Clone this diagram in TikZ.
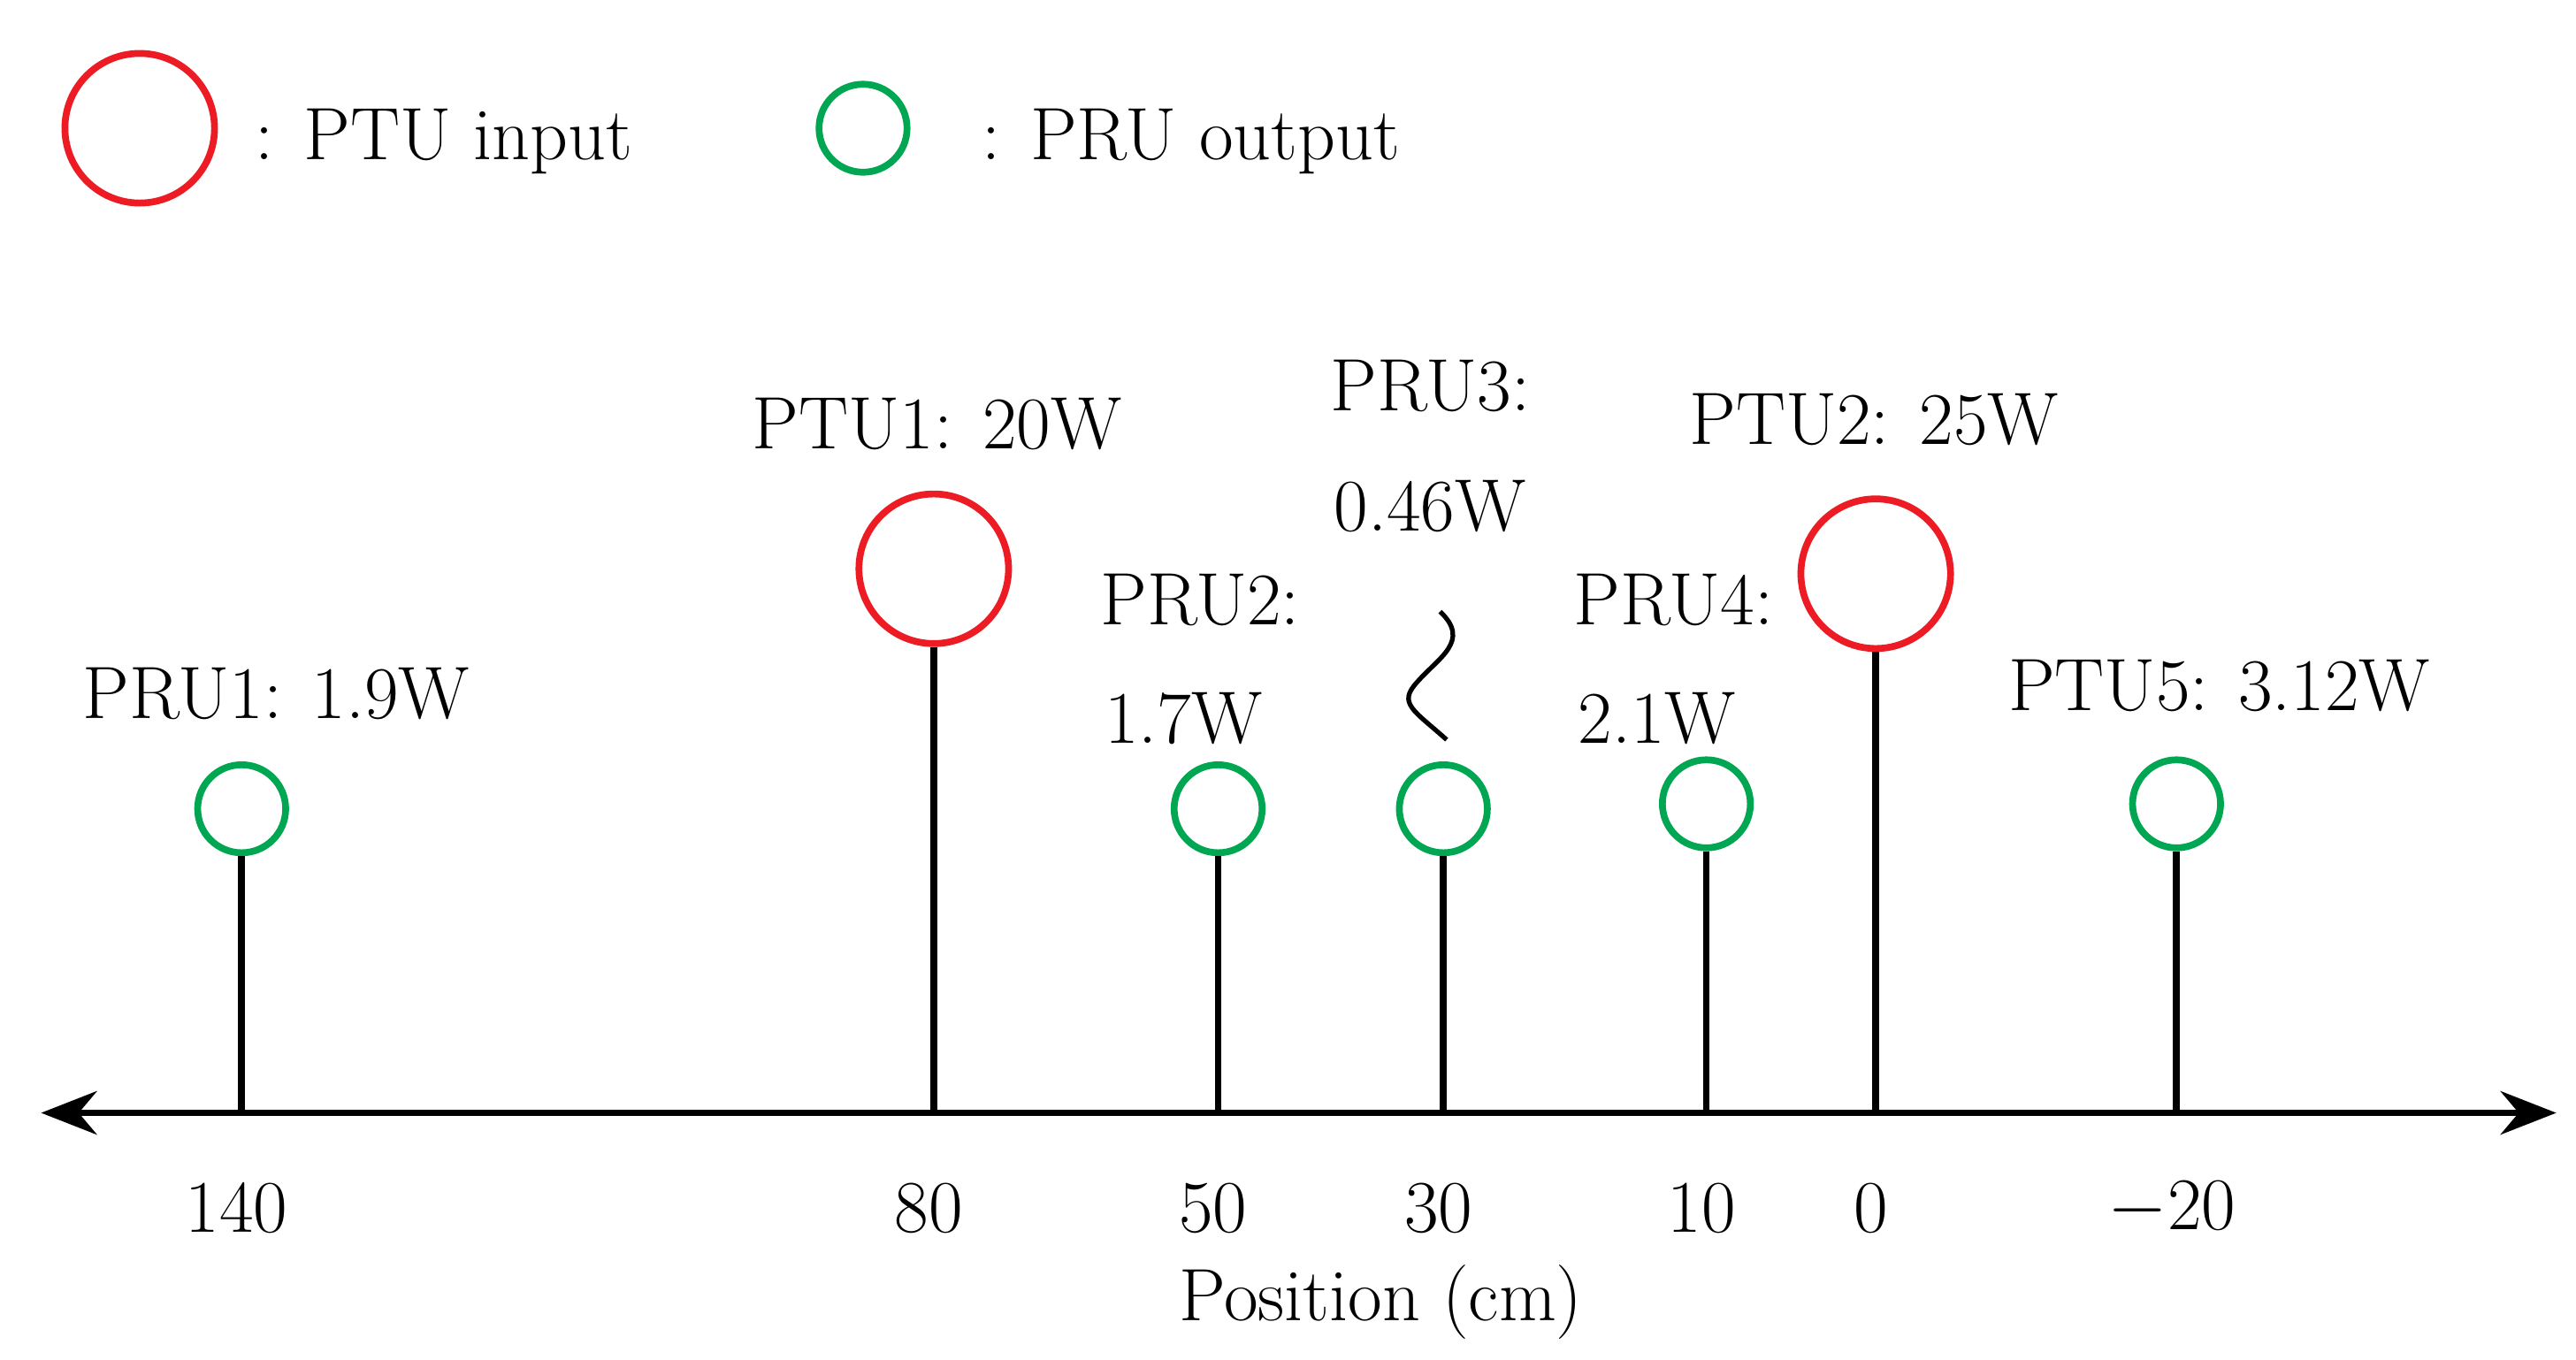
\documentclass[tikz,border=0pt]{standalone}
\usetikzlibrary{arrows.meta}
\definecolor{rred}{RGB}{237,28,36}
\definecolor{ggreen}{RGB}{0,166,81}
\begin{document}
\begin{tikzpicture}[x=0.01867cm,y=-0.01867cm,
  txt/.style={font=\fontsize{24}{30}\selectfont,inner sep=0pt},
  stem/.style={line width=2.2pt},
  gc/.style={circle,draw=ggreen,line width=2.2pt,inner sep=0pt,minimum size=1cm},
  rc/.style={circle,draw=rred,line width=2.2pt,inner sep=0pt,minimum size=1.7cm}]
\useasboundingbox (0,0) rectangle (1567,827);
% legend
\node[rc] (lr) at (85,78) {};
\node[txt,anchor=west] (lrt) at (155,86) {: PTU input};
\node[gc] (lg) at (525,78) {};
\node[txt,anchor=west] (lgt) at (597,86) {: PRU output};
% axis
\coordinate (al) at (25,677); \coordinate (ar) at (1555,677);
\draw[stem,{Stealth[length=18pt,width=14pt]}-{Stealth[length=18pt,width=14pt]}] (al) -- (ar);
% stems
\foreach \n/\x/\y/\s/\lab in {a/147/492/gc/140, b/568/346/rc/80, c/741/492/gc/50, d/878/492/gc/30, e/1038/489/gc/10, f/1141/349/rc/0, g/1324/489/gc/$-$20}{
  \node[\s] (c\n) at (\x,\y) {};
  \coordinate (b\n) at (\x,677);
  \draw[stem] (c\n.south) -- (b\n);
  \node[txt] (t\n) at (\x-3,735) {\lab};
}
\node[txt] (pos) at (840,792) {Position (cm)};
% labels
\node[txt] (l1) at (168,422) {PRU1: 1.9W};
\node[txt] (l2) at (570,258) {PTU1: 20W};
\node[txt] (l3a) at (730,365) {PRU2:};
\node[txt] (l3b) at (720,437) {1.7W};
\node[txt] (l4a) at (870,235) {PRU3:};
\node[txt] (l4b) at (870,308) {0.46W};
\node[txt] (l5a) at (1018,365) {PRU4:};
\node[txt] (l5b) at (1008,437) {2.1W};
\node[txt] (l6) at (1140,255) {PTU2: 25W};
\node[txt] (l7) at (1350,417) {PTU5: 3.12W};
% squiggle
\coordinate (s1) at (876,372); \coordinate (s2) at (880,450);
\draw[line width=1.5pt] (s1) .. controls (895,390) and (875,400) .. (862,415)
  .. controls (850,428) and (860,432) .. (s2);
\end{tikzpicture}
\end{document}
